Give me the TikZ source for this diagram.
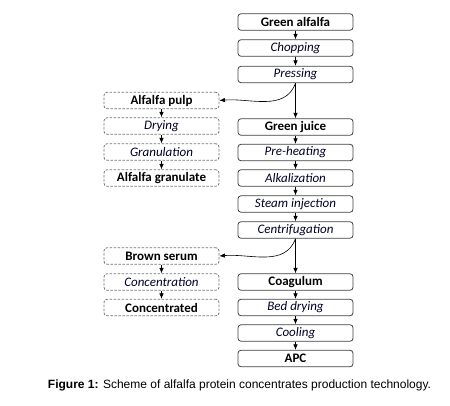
\documentclass[tikz,border=0pt]{standalone}
\usepackage{fontspec}
\setmainfont{Carlito}
\newfontfamily\capfont{Liberation Sans}
\usetikzlibrary{arrows.meta}
\begin{document}
\begin{tikzpicture}[x=1pt,y=1pt,
  box/.style={draw=black!75, line width=0.8pt, rounded corners=3pt, minimum width=115pt, minimum height=16.5pt, inner sep=0pt, text=black},
  dbox/.style={box, dashed, draw=black!55, dash pattern=on 2.5pt off 1.5pt},
  bt/.style={font=\fontsize{13}{14}\selectfont\bfseries},
  it/.style={font=\fontsize{13}{14}\selectfont\itshape, text=blue!15!black},
  arr/.style={-{Latex[length=5.5pt,width=4.5pt]}, line width=0.6pt, draw=black}
]
\useasboundingbox (0,0) rectangle (450,405);
% right column
\node[box,bt] (ga) at (295.5,405-22) {Green alfalfa};
\node[box,it] (ch) at (295.5,405-48) {Chopping};
\node[box,it] (pr) at (295.5,405-74.5) {Pressing};
\node[box,bt] (gj) at (295.5,405-127) {Green juice};
\node[box,it] (ph) at (295.5,405-152.5) {Pre-heating};
\node[box,it] (al) at (295.5,405-178) {Alkalization};
\node[box,it] (si) at (295.5,405-204) {Steam injection};
\node[box,it] (ce) at (295.5,405-230) {Centrifugation};
\node[box,bt] (co) at (295.5,405-282) {Coagulum};
\node[box,it] (bd) at (295.5,405-307.5) {Bed drying};
\node[box,it] (cl) at (295.5,405-333) {Cooling};
\node[box,bt] (apc) at (295.5,405-358.5) {APC};
% left column
\node[dbox,bt] (pu) at (161.5,405-100.5) {Alfalfa pulp};
\node[dbox,it] (dr) at (161.5,405-126) {Drying};
\node[dbox,it] (gr) at (161.5,405-152) {Granulation};
\node[dbox,bt] (ag) at (161.5,405-178) {Alfalfa granulate};
\node[dbox,bt] (bs) at (161.5,405-256) {Brown serum};
\node[dbox,it] (cn) at (161.5,405-282) {Concentration};
\node[dbox,bt] (cd) at (161.5,405-307.5) {Concentrated};
% arrows
\draw[arr] (ga) -- (ch);
\draw[arr] (ch) -- (pr);
\draw[arr] (pr) -- (gj);
\draw[arr] (gj) -- (ph);
\draw[arr] (ph) -- (al);
\draw[arr] (al) -- (si);
\draw[arr] (si) -- (ce);
\draw[arr] (ce) -- (co);
\draw[arr] (co) -- (bd);
\draw[arr] (bd) -- (cl);
\draw[arr] (cl) -- (apc);
\draw[arr] (pu) -- (dr);
\draw[arr] (dr) -- (gr);
\draw[arr] (gr) -- (ag);
\draw[arr] (bs) -- (cn);
\draw[arr] (cn) -- (cd);
\draw[arr] (pr.south) to[out=-110,in=5] (pu.east);
\draw[arr] (ce.south) to[out=-110,in=5] (bs.east);
% caption
\node[font=\capfont\fontsize{12}{14}\selectfont, inner sep=0pt] (cap) at (239.5,405-385) {\textbf{Figure 1:} Scheme of alfalfa protein concentrates production technology.};
\end{tikzpicture}
\end{document}
